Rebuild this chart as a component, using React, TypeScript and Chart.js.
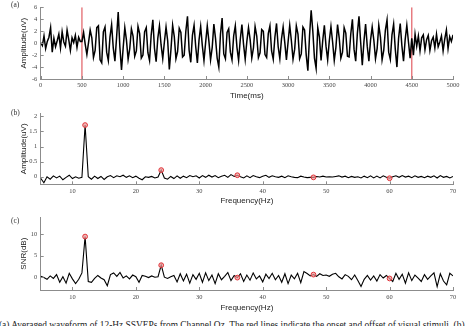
import React, { useEffect, useRef } from "react";
import { Chart, registerables } from "chart.js";

Chart.register(...registerables);

// ---------- (a) averaged waveform ----------
const sampleStepMs = 20;
const amplitudeUv = [
  // 0-480 ms
  0.1, -0.4, 1.2, -0.9, 0.3, 1.0, 2.6, -1.5, 0.8, -0.6, 0.4, 1.5, -0.8, 1.9, 0.2, -0.5, 2.2, 0.6, -1.2, 0.9, 0.1, 1.3, -0.7, 1.0, 0.3,
  // 500-980 ms
  0.3, 1.8, -0.2, -1.9, 0.1, 2.2, 0.9, -2.4, -1.2, 2.6, 2.9, -2.8, -3.3, 1.9, 2.7, -1.5, -2.9, 1.0, 3.1, -0.8, -3.0, 0.9, 5.2, -0.6, -4.5,
  // 1000-1480 ms
  -0.8, 2.6, 0.5, -2.7, -0.9, 2.4, 1.2, -2.2, -1.3, 2.8, 1.6, -2.5, -2.0, 1.9, 2.6, -1.6, -2.9, 1.4, 3.9, -0.9, -3.1, 0.8, 2.9, -0.3, -2.6,
  // 1500-1980 ms
  0.2, 2.7, 0.4, -4.4, -1.0, 3.0, 1.1, -2.6, -1.4, 2.5, 1.8, -2.3, -2.0, 2.0, 4.5, -1.2, -3.2, 1.3, 3.0, -0.6, -3.3, 0.5, 2.8, -0.4, -2.9,
  // 2000-2480 ms
  0.1, 2.9, 0.3, -2.8, -0.7, 3.2, 0.8, -2.5, -4.0, 1.5, 4.2, -1.8, -2.6, 1.8, 2.4, -1.5, -2.8, 1.2, 2.9, -0.7, -2.9, 0.6, 3.1, -0.2, -2.7,
  // 2500-2980 ms
  0.3, 2.6, 0.6, -2.5, -0.8, 2.8, 1.2, -2.4, -1.6, 2.3, 2.0, -1.9, -2.4, 1.6, 2.9, -1.3, -2.7, 1.0, 3.3, -0.6, -2.6, 0.7, 2.7, 0.1, -2.8,
  // 3000-3480 ms
  0.2, 3.0, 0.4, -2.7, -1.0, 2.9, 1.5, -2.6, -1.8, 2.7, 2.2, -2.0, -4.6, 1.2, 5.5, 2.0, -2.5, -4.2, 2.6, 1.0, -2.9, 0.4, 3.0, -0.5, -2.8,
  // 3500-3980 ms
  0.4, 2.8, 0.2, -2.9, -0.7, 3.1, 0.9, -2.5, -1.5, 2.6, 1.7, -2.2, -2.3, 1.5, 4.0, -1.0, -3.0, 1.6, 4.5, 0.2, -3.7, 0.3, 3.2, -0.5, -3.0,
  // 4000-4480 ms
  0.5, 2.7, 0.5, -2.6, -0.9, 3.0, 1.0, -2.8, -1.2, 2.2, 3.9, -1.5, -2.7, 1.4, 3.2, -1.0, -4.0, 0.8, 3.3, -0.4, -3.0, 0.6, 3.0, 0.2, -2.5,
  // 4500-4980 ms
  0.8, -2.0, 1.5, -0.5, 1.2, -1.3, 0.9, 1.4, -1.1, 0.6, 1.3, -1.2, 0.4, 1.0, -0.8, 1.5, -0.6, 0.2, 1.2, -1.3, 0.7, 2.2, -0.9, 1.1, 0.3,
  // 5000 ms
  1.4,
];
const stimulusEdgesMs = [500, 4500];
const timeTicks = [0, 500, 1000, 1500, 2000, 2500, 3000, 3500, 4000, 4500, 5000];
const ampTicks = [-6, -4, -2, 0, 2, 4, 6];

// ---------- (b) amplitude spectrum / (c) SNR ----------
const freqStartHz = 5;
const freqStepHz = 0.5;
const spectrumUv = [
  -0.05, -0.2, 0.0, -0.08, 0.03, -0.04, 0.02, -0.1, -0.02, 0.05,
  -0.06, 0.0, -0.05, -0.02, 1.71, 0.0, -0.08, 0.02, -0.06, 0.01,
  -0.09, 0.0, 0.04, -0.03, 0.03, 0.0, 0.05, -0.02, 0.03, -0.03,
  0.02, -0.05, -0.1, 0.0, -0.02, 0.01, -0.04, -0.01, 0.22, -0.04,
  -0.08, 0.01, -0.06, 0.03, -0.05, 0.02, -0.03, 0.04, 0.0, 0.03,
  -0.04, 0.04, -0.02, 0.05, -0.01, 0.04, -0.03, 0.02, 0.05, -0.02,
  0.07, 0.01, 0.05, 0.0, -0.04, 0.03, -0.03, 0.04, 0.0, -0.03,
  0.02, 0.05, -0.02, 0.03, 0.0, -0.02, 0.02, -0.03, 0.03, 0.0,
  -0.02, -0.03, 0.02, -0.01, -0.03, -0.02, -0.02, 0.01, -0.01, 0.02,
  -0.01, 0.0, -0.01, 0.01, 0.03, -0.01, 0.02, -0.03, 0.01, -0.02,
  0.0, -0.04, 0.02, -0.03, 0.03, -0.04, 0.02, -0.04, 0.03, -0.02,
  -0.05, 0.0, 0.03, -0.02, 0.04, -0.01, 0.02, -0.03, 0.03, -0.02,
  0.01, -0.03, 0.02, -0.02, 0.03, -0.04, 0.04, -0.02, 0.01, -0.04,
  0.01,
];
const snrDb = [
  0.2, -0.1, -0.5, 0.3, -0.3, 0.6, -1.2, 0.1, -1.4, 0.9,
  -0.4, -1.5, -0.5, 1.0, 9.5, -1.0, -1.2, -0.3, 0.4, -0.2,
  -0.6, -2.0, 0.6, 1.0, 0.2, 1.1, -0.2, 0.3, -0.4, 0.5,
  0.1, -1.2, 0.4, 0.2, -0.1, 0.3, 0.0, 0.1, 2.8, 0.0,
  -0.3, 0.1, 0.4, -1.1, 0.8, -0.9, 0.7, -1.4, 0.6, -0.5,
  0.9, -1.2, 1.0, -0.8, 0.5, -1.5, 0.8, -0.6, 0.2, 1.1,
  -0.8, 0.4, -0.1, 0.8, -1.0, 0.5, -0.7, 1.0, -0.4, 0.3,
  -1.1, 0.7, -0.3, 0.9, -0.6, 0.4, -1.2, 0.8, -1.5, 0.5,
  -0.4, 0.9, -1.3, 1.3, 0.85, 0.3, 0.6, 0.2, 0.8, 0.4,
  0.5, 0.2, 0.7, 0.9, 0.1, -0.4, 0.6, 0.2, -0.6, 0.5,
  -0.8, -2.2, -0.5, 0.4, -0.7, 0.3, -0.9, 0.6, -0.2, 0.4,
  -0.3, -1.0, 0.9, -0.5, 0.7, -1.4, 1.0, -0.8, 0.5, -0.2,
  -1.0, 0.6, -0.5, 0.3, 1.0, -2.2, 0.8, -0.9, -1.8, 0.9,
  0.3,
];
const harmonicsHz = [12, 24, 36, 48, 60];
const freqTicks = [10, 20, 30, 40, 50, 60, 70];
const spectrumTicks = [0, 0.5, 1, 1.5, 2];
const snrTicks = [0, 5, 10];

const TICK_FONT = { family: "'Liberation Serif', serif", size: 6.4 };
const TITLE_FONT = { family: "'Liberation Sans', Arial, sans-serif", size: 8 };
const AXIS_COLOR = "#8c8c8c";

const inwardTicks = {
  id: "inwardTicks",
  afterDatasetsDraw(chart: any) {
    const { ctx } = chart;
    const xs = chart.scales.x;
    const ys = chart.scales.y;
    ctx.save();
    ctx.strokeStyle = AXIS_COLOR;
    ctx.lineWidth = 1;
    ctx.beginPath();
    xs.ticks.forEach((t: any) => {
      const px = Math.round(xs.getPixelForValue(t.value)) + 0.5;
      ctx.moveTo(px, xs.top);
      ctx.lineTo(px, xs.top - 3);
    });
    ys.ticks.forEach((t: any) => {
      const py = Math.round(ys.getPixelForValue(t.value)) + 0.5;
      ctx.moveTo(ys.right, py);
      ctx.lineTo(ys.right + 3, py);
    });
    ctx.stroke();
    ctx.restore();
  },
};

const plainLabel = (v: any) => String(v);

function axes(opts: {
  xMin: number; xMax: number; xTicks: number[]; xTitle: string;
  yMin: number; yMax: number; yTicks: number[]; yTitle: string;
  xHeight: number; labelPad: number; titlePadBottom: number;
}) {
  return {
    x: {
      type: "linear",
      min: opts.xMin,
      max: opts.xMax,
      afterBuildTicks: (s: any) => { s.ticks = opts.xTicks.map((v) => ({ value: v })); },
      afterFit: (s: any) => { s.height = opts.xHeight; },
      grid: { display: false, drawTicks: false },
      border: { display: true, color: AXIS_COLOR, width: 1 },
      ticks: { font: TICK_FONT, color: "#444", padding: opts.labelPad, maxRotation: 0, autoSkip: false, callback: plainLabel },
      title: { display: true, text: opts.xTitle, font: TITLE_FONT, color: "#222", padding: { top: 0, bottom: opts.titlePadBottom } },
    },
    y: {
      type: "linear",
      min: opts.yMin,
      max: opts.yMax,
      afterBuildTicks: (s: any) => { s.ticks = opts.yTicks.map((v) => ({ value: v })); },
      afterFit: (s: any) => { s.width = 40.7; },
      grid: { display: false, drawTicks: false },
      border: { display: true, color: AXIS_COLOR, width: 1 },
      ticks: { font: TICK_FONT, color: "#444", padding: 3.5, autoSkip: false, callback: plainLabel },
      title: { display: true, text: opts.yTitle, font: TITLE_FONT, color: "#222", padding: { top: 19, bottom: 0 } },
    },
  };
}

const baseOptions = (padTop: number, scales: any) => ({
  responsive: false,
  animation: false,
  events: [],
  layout: { padding: { left: 0, right: 21, top: padTop, bottom: 0 } },
  plugins: { legend: { display: false }, tooltip: { enabled: false } },
  scales,
});

const freqOf = (i: number) => freqStartHz + i * freqStepHz;
const valueAt = (arr: number[], f: number) => arr[Math.round((f - freqStartHz) / freqStepHz)];

export default function App() {
  const refA = useRef<HTMLCanvasElement>(null);
  const refB = useRef<HTMLCanvasElement>(null);
  const refC = useRef<HTMLCanvasElement>(null);

  useEffect(() => {
    const charts: Chart[] = [];

    charts.push(
      new Chart(refA.current as HTMLCanvasElement, {
        type: "line",
        data: {
          datasets: [
            {
              data: amplitudeUv.map((v, i) => ({ x: i * sampleStepMs, y: v })),
              borderColor: "#000",
              borderWidth: 1.5,
              pointRadius: 0,
              tension: 0,
            },
            ...stimulusEdgesMs.map((t) => ({
              data: [
                { x: t, y: ampTicks[0] },
                { x: t, y: ampTicks[ampTicks.length - 1] },
              ],
              borderColor: "#e46a70",
              borderWidth: 1.3,
              pointRadius: 0,
            })),
          ],
        },
        options: baseOptions(
          5.7,
          axes({
            xMin: 0, xMax: 5000, xTicks: timeTicks, xTitle: "Time(ms)",
            yMin: -6, yMax: 6, yTicks: ampTicks, yTitle: "Amplitude(uV)",
            xHeight: 23, labelPad: 2.5, titlePadBottom: 1.2,
          })
        ) as any,
        plugins: [inwardTicks],
      } as any)
    );

    const spectrumChart = (
      canvas: HTMLCanvasElement, values: number[], padTop: number, yMin: number, yMax: number,
      yTicks: number[], yTitle: string, xHeight: number, labelPad: number, titlePadBottom: number
    ) =>
      new Chart(canvas, {
        type: "line",
        data: {
          datasets: [
            {
              type: "scatter",
              data: harmonicsHz.map((f) => ({ x: f, y: valueAt(values, f) })),
              pointRadius: 2.4,
              pointBorderWidth: 1,
              pointBorderColor: "#e0353a",
              pointBackgroundColor: "rgba(240,150,150,0.7)",
              showLine: false,
            },
            {
              data: values.map((v, i) => ({ x: freqOf(i), y: v })),
              borderColor: "#000",
              borderWidth: 1.1,
              pointRadius: 0,
              tension: 0,
            },
          ],
        },
        options: baseOptions(
          padTop,
          axes({
            xMin: 5, xMax: 70, xTicks: freqTicks, xTitle: "Frequency(Hz)",
            yMin, yMax, yTicks, yTitle, xHeight, labelPad, titlePadBottom,
          })
        ) as any,
        plugins: [inwardTicks],
      } as any);

    charts.push(spectrumChart(refB.current as HTMLCanvasElement, spectrumUv, 9.3, -0.25, 2.1, spectrumTicks, "Amplitude(uV)", 23.7, 2.9, 2.2));
    charts.push(spectrumChart(refC.current as HTMLCanvasElement, snrDb, 7.3, -3, 14, snrTicks, "SNR(dB)", 24, 3.2, 1.2));

    return () => charts.forEach((c) => c.destroy());
  }, []);

  const panelLabel: React.CSSProperties = {
    position: "absolute",
    left: 11,
    fontFamily: "'Liberation Serif', serif",
    fontSize: 7.5,
    color: "#333",
    lineHeight: "8px",
  };

  return (
    <div style={{ position: "fixed", left: 0, top: 0, width: 474, height: 326, overflow: "hidden", background: "#fff" }}>
      <canvas ref={refA} width={474} height={102} style={{ position: "absolute", left: 0, top: 0 }} />
      <canvas ref={refB} width={474} height={104} style={{ position: "absolute", left: 0, top: 104 }} />
      <canvas ref={refC} width={474} height={104} style={{ position: "absolute", left: 0, top: 210 }} />
      <div style={{ ...panelLabel, top: 1 }}>(a)</div>
      <div style={{ ...panelLabel, top: 109 }}>(b)</div>
      <div style={{ ...panelLabel, top: 217 }}>(c)</div>
      <div
        style={{
          position: "absolute",
          left: -1,
          top: 318.5,
          whiteSpace: "nowrap",
          fontFamily: "'Liberation Serif', serif",
          fontSize: 9.4,
          lineHeight: "12px",
          color: "#222",
        }}
      >
        (a) Averaged waveform of 12-Hz SSVEPs from Channel Oz. The red lines indicate the onset and offset of visual stimuli. (b)
      </div>
    </div>
  );
}
